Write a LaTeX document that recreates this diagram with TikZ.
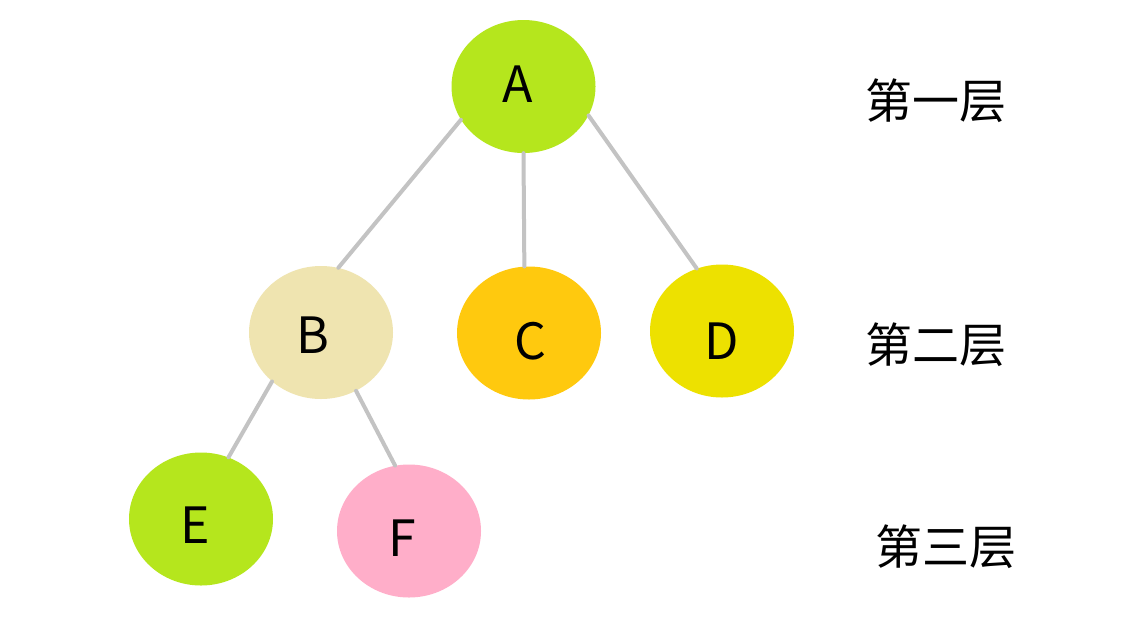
\documentclass[tikz,border=0pt]{standalone}
\usepackage{fontspec}
\setmainfont{Noto Sans CJK SC}
\usetikzlibrary{shapes.geometric}
\definecolor{lime}{HTML}{B5E61D}
\definecolor{beige}{HTML}{EFE4B0}
\definecolor{gold}{HTML}{FFC90E}
\definecolor{yel}{HTML}{EDE100}
\definecolor{pinkish}{HTML}{FFAEC9}
\definecolor{edgegray}{HTML}{C3C3C3}
\tikzset{
  treenode/.style={ellipse, minimum width=144pt, minimum height=133pt, inner sep=0pt},
  lettertext/.style={font=\fontsize{50}{56}\selectfont, inner sep=0pt},
  edge/.style={draw=edgegray, line width=4pt, line cap=round},
  levellabel/.style={font=\fontsize{47}{54}\selectfont, inner sep=0pt}
}
\begin{document}
\begin{tikzpicture}[x=1pt,y=-1pt]
\useasboundingbox (0,0) rectangle (1142,625);
\fill[white] (0,0) rectangle (1142,625);
\node[treenode, fill=lime, label={[lettertext, xshift=-6pt, yshift=2pt]center:A}] (A) at (523.5,86.5) {};
\node[treenode, fill=beige, label={[lettertext, xshift=-8pt, yshift=-3pt]center:B}] (B) at (321,332.5) {};
\node[treenode, fill=gold, label={[lettertext, xshift=1pt, yshift=-8pt]center:C}] (C) at (529,333) {};
\node[treenode, fill=yel, label={[lettertext, yshift=-10pt]center:D}] (D) at (722,331) {};
\node[treenode, fill=lime, label={[lettertext, xshift=-6pt, yshift=-6pt]center:E}] (E) at (201,519) {};
\node[treenode, fill=pinkish, label={[lettertext, xshift=-7pt, yshift=-7pt]center:F}] (F) at (409,531) {};
\draw[edge] (A.208) -- (B.75);
\draw[edge] (A.270.5) -- (C.94);
\draw[edge] (A.336) -- (D.112);
\draw[edge] (B.225) -- (E.66);
\draw[edge] (B.301) -- (F.102);
\node[levellabel] (L1) at (936,101) {第一层};
\node[levellabel] (L2) at (936,345) {第二层};
\node[levellabel] (L3) at (946,547) {第三层};
\end{tikzpicture}
\end{document}
